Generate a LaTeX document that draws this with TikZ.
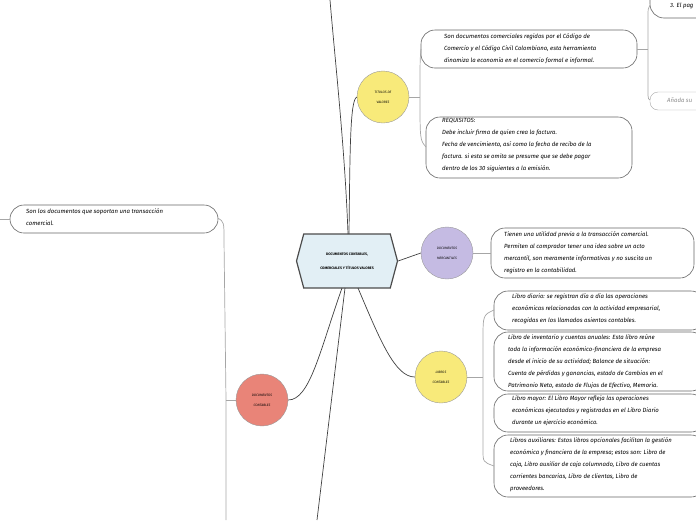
\documentclass[tikz,border=0pt]{standalone}
\usepackage{fontspec}
\setmainfont{Fira Sans}
\usetikzlibrary{shapes.geometric,shapes.symbols}
\definecolor{cyel}{HTML}{F8EA7A}
\definecolor{cpur}{HTML}{C5BBE3}
\definecolor{cred}{HTML}{E98478}
\definecolor{cblu}{HTML}{E2EFF5}
\begin{document}
\begin{tikzpicture}[x=1pt,y=-1pt,
  conn/.style={draw=black!75,line width=0.7pt},
  br/.style={draw=black!35,line width=0.7pt},
  tbox/.style={draw=black!60,rounded corners=14pt,line width=0.6pt,fill=white},
  txt/.style={font=\fontsize{6}{12}\selectfont\itshape,align=left,anchor=north west,inner sep=0pt},
  circ/.style={circle,draw=black!40,minimum size=52pt,inner sep=0pt,font=\fontsize{3.3}{10}\selectfont\itshape,align=center}]
\useasboundingbox (0,0) rectangle (696,520);
% center
\node[draw=black!70,line width=1.2pt,fill=cblu,signal,signal to=west and east,signal pointer angle=150,minimum width=101pt,minimum height=54pt,inner sep=0pt,font=\fontsize{3.5}{14}\selectfont\bfseries,align=center] (c) at (347,261) {DOCUMENTOS CONTABLES,\\COMERCIALES Y TÍTULOS VALORES};
% circles
\node[circ,fill=cpur] (p) at (447,253) {DOCUMENTOS\\MERCANTILES};
\node[circ,fill=cyel] (t) at (383,97) {TITULOS DE\\VALORES};
\node[circ,fill=cyel] (l) at (441,377) {LIBROS\\CONTABLES};
\node[circ,fill=cred] (r) at (262,400) {DOCUMENTOS\\CONTABLES};
% main connectors
\coordinate (ctop) at (348,234);
\coordinate (top1) at (330,0);
\coordinate (bot1) at (317,520);
\draw[conn] (ctop) .. controls (345,150) and (335,60) .. (top1);
\draw[conn] (349,234) .. controls (350,150) and (350,100) .. (t.west);
\draw[conn] (c.east) -- (p.west);
\draw[conn] (358,288) .. controls (380,340) and (395,377) .. (l.west);
\draw[conn] (342,288) .. controls (320,350) and (310,400) .. (r.east);
\draw[conn] (345,288) -- (bot1);
% purple box
\draw[tbox] (491,228) rectangle (694,278);
\node[txt] (pt) at (504,231) {Tienen una utilidad previa a la transacción comercial.\\Permiten al comprador tener una idea sobre un acto\\mercantil, son meramente informativos y no suscita un\\registro en la contabilidad.};
\draw[br] (p.east) -- (491,253);
% titulos boxes
\draw[tbox] (421,30) rectangle (637,68);
\node[txt] (t1) at (444,33) {Son documentos comerciales regidos por el Código de\\Comercio y el Código Civil Colombiano, esta herramienta\\dinamiza la economía en el comercio formal e informal.};
\draw[tbox] (426,117) rectangle (632,178);
\node[txt] (t2) at (442,118) {REQUISITOS:\\Debe incluir firma de quien crea la factura.\\Fecha de vencimiento, así como la fecha de recibo de la\\factura. si esta se omita se presume que se debe pagar\\dentro de los 30 siguientes a la emisión.};
\draw[br] (t.east) -- (420,97);
\draw[br] (421,49) .. controls (420,60) .. (420,97) .. controls (420,140) .. (426,147);
% top-right
\draw[tbox] (650,-20) rectangle (720,18);
\node[txt] (tr) at (670,3) {3. El pag};
\draw[br] (637,49) -- (648,49);
\draw[br] (650,5) .. controls (648,8) .. (648,20) -- (648,90) .. controls (648,100) .. (652,100);
\draw[draw=black!35,rounded corners=8pt,fill=white] (650,92) rectangle (710,110);
\node[txt,text=black!45] (ad) at (667,98) {Añada su};
% libros boxes
\draw[br] (l.east) -- (483,377);
\foreach \ya/\yb in {291/330,332/391,394/432,435/497}{
  \draw[tbox] (494,\ya) rectangle (705,\yb);
}
\draw[br] (494,310) .. controls (483,315) .. (483,340) -- (483,450) .. controls (483,462) .. (494,466);
\node[txt] (l1) at (512,293) {Libro diario: se registran día a día las operaciones\\económicas relacionadas con la actividad empresarial,\\recogidas en los llamados asientos contables.};
\node[txt] (l2) at (508,334) {Libro de inventario y cuentas anuales: Esta libro reúne\\toda la información económico-financiera de la empresa\\desde el inicio de su actividad; Balance de situación:\\Cuenta de pérdidas y ganancias, estado de Cambios en el\\Patrimonio Neto, estado de Flujos de Efectivo, Memoria.};
\node[txt] (l3) at (512,396) {Libro mayor: El Libro Mayor refleja las operaciones\\económicas ejecutadas y registradas en el Libro Diario\\durante un ejercicio económico.};
\node[txt] (l4) at (510,437) {Libros auxiliares: Estos libros opcionales facilitan la gestión\\económica y financiera de la empresa; estos son: Libro de\\caja, Libro auxiliar de caja columnado, Libro de cuentas\\corrientes bancarias, Libro de clientas, Libro de\\proveedores.};
% red branch
\draw[tbox] (10,205) rectangle (218,233);
\node[txt] (rt) at (26,208) {Son los documentos que soportan una transacción\\comercial.};
\draw[br] (r.west) -- (226,400);
\draw[br] (218,218) .. controls (224,222) .. (224,240) -- (226,400) -- (226,520);
\draw[br] (0,219) -- (10,219);
\end{tikzpicture}
\end{document}
